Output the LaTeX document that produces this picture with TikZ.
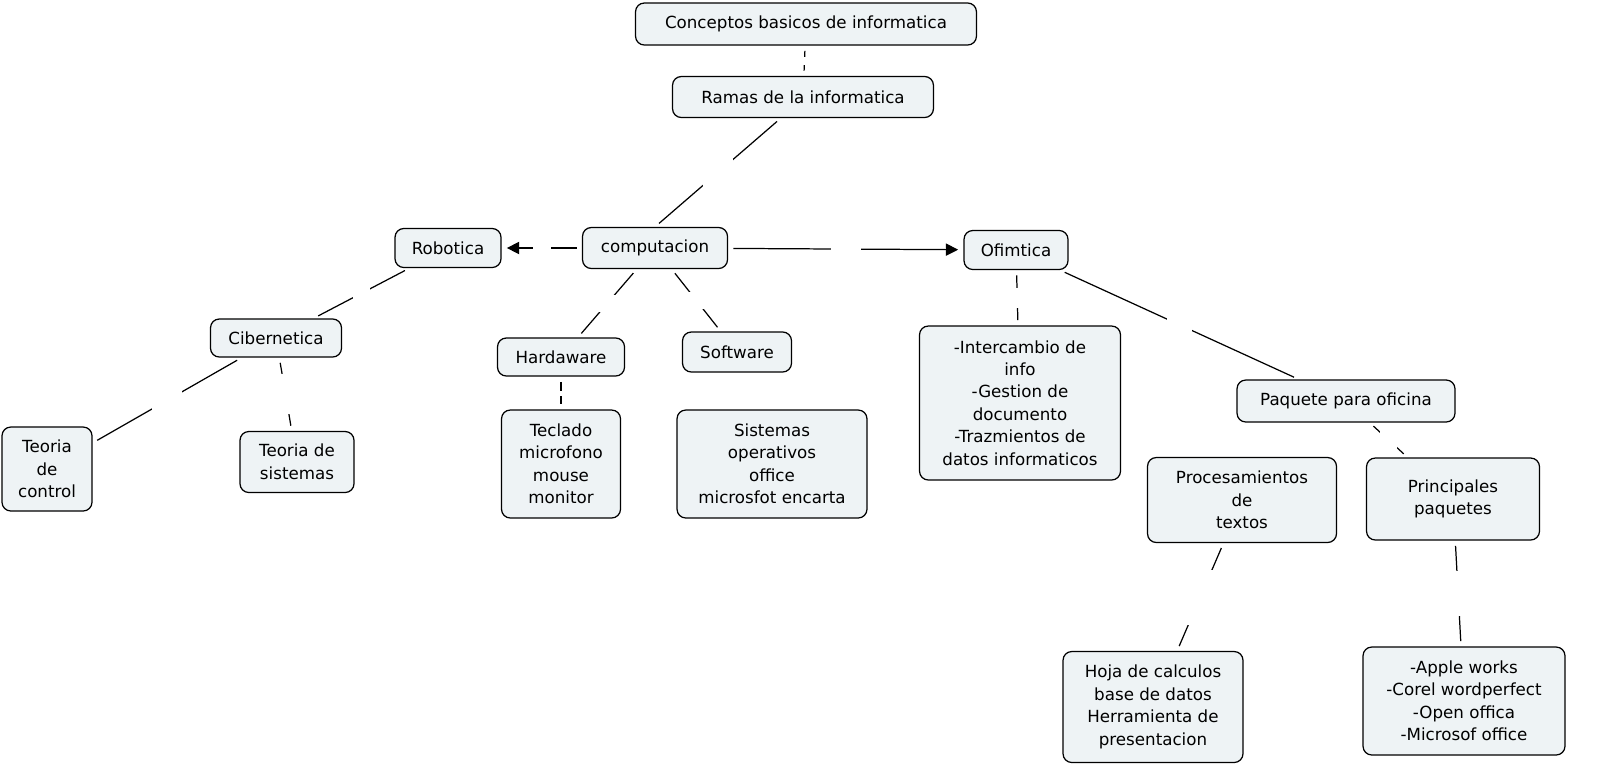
\documentclass[tikz,border=0pt]{standalone}
\usepackage{fontspec}
\setmainfont{DejaVu Sans}
\usetikzlibrary{arrows.meta}
\definecolor{boxfill}{HTML}{EEF3F5}
\begin{document}
\begin{tikzpicture}[x=0.02cm,y=-0.02cm,
  box/.style={draw=black, line width=0.7pt, rounded corners=5pt, fill=boxfill, align=center, inner sep=2pt, font=\fontsize{9.5}{12.8}\selectfont},
  con/.style={line width=0.7pt, shorten <=3pt, shorten >=3pt},
  arr/.style={con, -{Triangle[length=7pt,width=7pt]}},
  gap/.style={fill=white, inner sep=0pt, minimum size=#1},
  gap/.default=0.5cm]
\clip (0,0) rectangle (1600,782);
\node[box, minimum width=6.82cm, minimum height=0.84cm] (top) at (806,24) {Conceptos basicos de informatica};
\node[box, minimum width=5.22cm, minimum height=0.82cm] (ramas) at (803,97) {Ramas de la informatica};
\node[box, minimum width=2.9cm, minimum height=0.82cm] (comp) at (655,248) {computacion};
\node[box, minimum width=2.12cm, minimum height=0.78cm] (rob) at (448,248) {Robotica};
\node[box, minimum width=2.08cm, minimum height=0.78cm] (ofi) at (1016,250) {Ofimtica};
\node[box, minimum width=2.62cm, minimum height=0.76cm] (cib) at (276,338) {Cibernetica};
\node[box, minimum width=2.54cm, minimum height=0.76cm] (hard) at (561,357) {Hardaware};
\node[box, minimum width=2.18cm, minimum height=0.8cm] (soft) at (737,352) {Software};
\node[box, minimum width=1.8cm, minimum height=1.68cm] (tc) at (47,469) {Teoria\\de\\control};
\node[box, minimum width=2.28cm, minimum height=1.22cm] (ts) at (297,462) {Teoria de\\sistemas};
\node[box, minimum width=2.38cm, minimum height=2.16cm] (tec) at (561,464) {Teclado\\microfono\\mouse\\monitor};
\node[box, minimum width=3.8cm, minimum height=2.16cm] (sis) at (772,464) {Sistemas\\operativos\\office\\microsfot encarta};
\node[box, minimum width=4.02cm, minimum height=3.08cm] (inter) at (1020,403) {-Intercambio de\\info\\-Gestion de\\documento\\-Trazmientos de\\datos informaticos};
\node[box, minimum width=4.36cm, minimum height=0.84cm] (paq) at (1346,401) {Paquete para oficina};
\node[box, minimum width=3.78cm, minimum height=1.7cm] (proc) at (1242,500) {Procesamientos\\de\\textos};
\node[box, minimum width=3.46cm, minimum height=1.64cm] (prin) at (1453,499) {Principales\\paquetes};
\node[box, minimum width=3.6cm, minimum height=2.22cm] (hoja) at (1153,707) {Hoja de calculos\\base de datos\\Herramienta de\\presentacion};
\node[box, minimum width=4.04cm, minimum height=2.16cm] (apple) at (1464,701) {-Apple works\\-Corel wordperfect\\-Open offica\\-Microsof office};
\coordinate (r1) at (781,118);
\draw[con] (top) -- node[gap=0.15cm]{} (ramas);
\draw[con] (r1) -- node[gap=0.6cm]{} (comp.north);
\draw[arr] (comp) -- node[gap=0.35cm]{} (rob);
\draw[arr] (comp) -- node[gap=0.6cm]{} (ofi);
\draw[con] (rob) -- node[gap=0.35cm]{} (cib);
\draw[con] (cib) -- node[gap=0.6cm]{} (tc);
\draw[con] (cib) -- node[gap=0.8cm]{} (ts);
\draw[con] (comp) -- node[gap=0.35cm]{} (hard);
\draw[con] (comp) -- node[gap=0.35cm]{} (soft);
\draw[con] (hard) -- node[gap=0.1cm]{} (tec);
\draw[con] (ofi) -- node[gap=0.4cm]{} (inter);
\draw[con] (ofi) -- node[gap=0.5cm]{} (paq);
\draw[con] (paq) -- node[gap=0.35cm]{} (prin);
\draw[con] (proc) -- node[gap=1.1cm]{} (hoja);
\draw[con] (prin) -- node[gap=0.9cm]{} (apple);
\end{tikzpicture}
\end{document}
